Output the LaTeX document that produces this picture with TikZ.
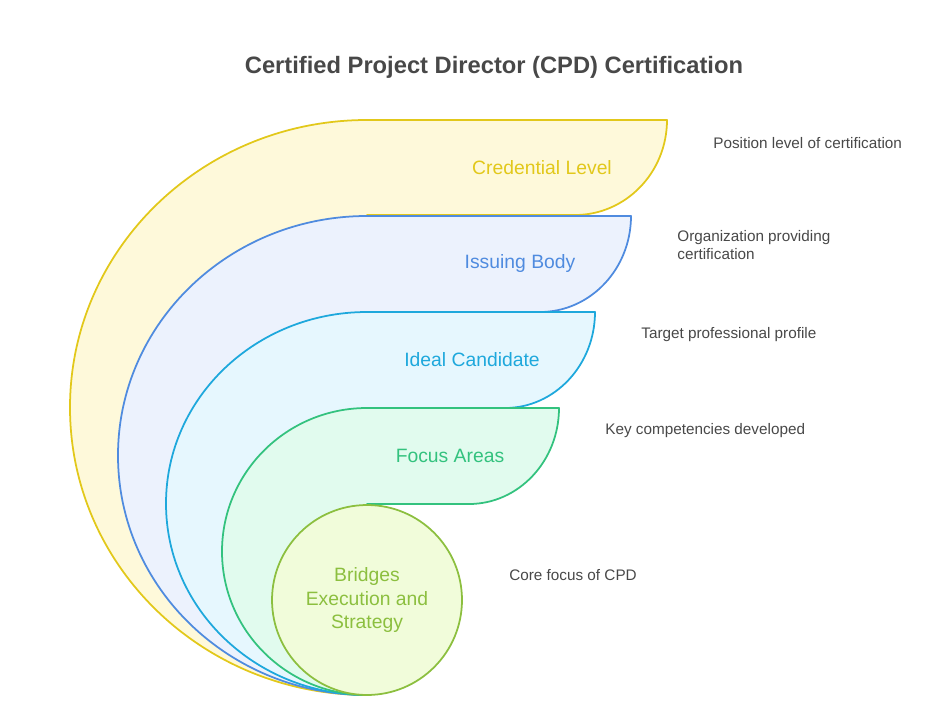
\documentclass[tikz,border=0pt]{standalone}
\usepackage{fontspec}
\setmainfont{Liberation Sans}
\usepackage{tikz}
\usetikzlibrary{positioning}
\definecolor{credline}{HTML}{E2C81A}
\definecolor{credfill}{HTML}{FEF9DA}
\definecolor{issueline}{HTML}{4F8BDF}
\definecolor{issuefill}{HTML}{ECF2FD}
\definecolor{idealline}{HTML}{1EA8DC}
\definecolor{idealfill}{HTML}{E6F7FE}
\definecolor{focusline}{HTML}{33C27E}
\definecolor{focusfill}{HTML}{E1FBEE}
\definecolor{coreline}{HTML}{8CBF3F}
\definecolor{corefill}{HTML}{F1FCDA}
\definecolor{bodytext}{HTML}{484848}

\begin{document}
\begin{tikzpicture}[
    x=0.02cm, y=0.02cm,
    layer/.style={
        line width=1pt,
        line join=round
    },
    layerlabel/.style={
        font=\fontsize{11}{13.6}\selectfont
    },
    note/.style={
        anchor=west,
        align=left,
        inner sep=0pt,
        text=bodytext,
        font=\fontsize{8.7}{9.8}\selectfont
    }
]
    \useasboundingbox (0,0) rectangle (950,718);

    % Title
    \node[font=\fontsize{13.5}{16}\selectfont\bfseries, text=bodytext] (title) at (494,651) {Certified Project Director (CPD) Certification};

    % Layer 1: Credential Level
    \draw[layer, draw=credline, fill=credfill] (667,598) arc[start angle=0, end angle=-90, x radius=92, y radius=95]
        -- (367,503) -- (367,23) arc[start angle=270, end angle=90, x radius=297, y radius=287.5] -- cycle;
    \node[layerlabel, text=credline] (cred) at (542,550) {Credential Level};

    % Layer 2: Issuing Body
    \draw[layer, draw=issueline, fill=issuefill] (631,502) arc[start angle=0, end angle=-90, x radius=91, y radius=96]
        -- (367,406) -- (367,23) arc[start angle=270, end angle=90, x radius=249, y radius=239.5] -- cycle;
    \node[layerlabel, text=issueline] (issue) at (520,454) {Issuing Body};

    % Layer 3: Ideal Candidate
    \draw[layer, draw=idealline, fill=idealfill] (595,406) arc[start angle=0, end angle=-90, x radius=90, y radius=96]
        -- (367,310) -- (367,23) arc[start angle=270, end angle=90, x radius=201, y radius=191.5] -- cycle;
    \node[layerlabel, text=idealline] (ideal) at (472,358) {Ideal Candidate};

    % Layer 4: Focus Areas
    \draw[layer, draw=focusline, fill=focusfill] (559,310) arc[start angle=0, end angle=-90, x radius=90, y radius=96]
        -- (367,214) -- (367,23) arc[start angle=270, end angle=90, x radius=145, y radius=143.5] -- cycle;
    \node[layerlabel, text=focusline] (focus) at (450,262) {Focus Areas};

    % Core circle
    \node[circle, draw=coreline, fill=corefill, line width=1pt, minimum size=3.8cm, inner sep=0pt,
        layerlabel, text=coreline, align=center] (core) at (367,118) {Bridges\\Execution and\\Strategy};

    % Notes
    \node[note] (credNote) at (713,575) {Position level of certification};
    \node[note] (issueNote) at (677,473) {Organization providing\\certification};
    \node[note] (idealNote) at (641,383) {Target professional profile};
    \node[note] (focusNote) at (605,287) {Key competencies developed};
    \node[note] (coreNote) at (509,143) {Core focus of CPD};
\end{tikzpicture}
\end{document}
